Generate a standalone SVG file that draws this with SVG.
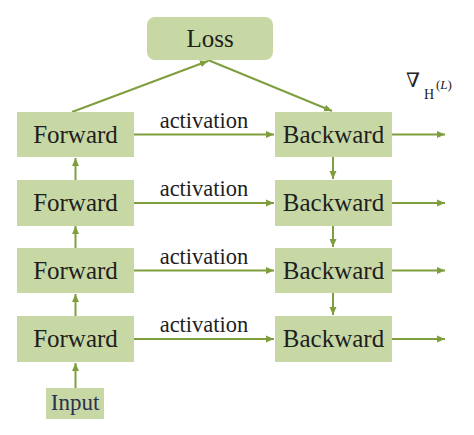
<svg xmlns="http://www.w3.org/2000/svg" width="474" height="435" viewBox="0 0 474 435">
  <style>
    .box { fill: #c8d8a5; }
    .lbl { font-size: 25px; fill: #1e1e1e; text-anchor: middle; }
    .act { font-size: 22.5px; fill: #1e1e1e; text-anchor: middle; }
    .conn { stroke: #7f9e3e; stroke-width: 2; fill: none; marker-end: url(#arr); }
    .math { fill: #222; }
  </style>
  <defs>
    <marker id="arr" markerUnits="userSpaceOnUse" markerWidth="9" markerHeight="8" refX="8" refY="4" orient="auto">
      <path d="M0,0.5 L8,4 L0,7.5 Z" fill="#7f9e3e"/>
    </marker>
  </defs>
  <rect width="474" height="435" fill="#ffffff"/>

  <g id="connectors">
    <line class="conn" x1="72" y1="112" x2="208" y2="61"/>
    <line class="conn" x1="208" y1="60" x2="332" y2="111"/>
    <line class="conn" x1="134" y1="134.5" x2="274" y2="134.5"/>
    <line class="conn" x1="134" y1="203" x2="274" y2="203"/>
    <line class="conn" x1="134" y1="270.5" x2="274" y2="270.5"/>
    <line class="conn" x1="134" y1="339" x2="274" y2="339"/>
    <line class="conn" x1="392" y1="134.5" x2="445" y2="134.5"/>
    <line class="conn" x1="392" y1="203" x2="445" y2="203"/>
    <line class="conn" x1="392" y1="270.5" x2="445" y2="270.5"/>
    <line class="conn" x1="392" y1="339" x2="445" y2="339"/>
    <line class="conn" x1="75.5" y1="180" x2="75.5" y2="158"/>
    <line class="conn" x1="75.5" y1="248" x2="75.5" y2="226"/>
    <line class="conn" x1="75.5" y1="316" x2="75.5" y2="294"/>
    <line class="conn" x1="75.5" y1="388" x2="75.5" y2="363"/>
    <line class="conn" x1="333" y1="157" x2="333" y2="179"/>
    <line class="conn" x1="333" y1="226" x2="333" y2="247"/>
    <line class="conn" x1="333" y1="293" x2="333" y2="315"/>
    <g font-family="Liberation Serif, DejaVu Serif, serif">
      <text class="act" x="204" y="127.5">activation</text>
      <text class="act" x="204" y="195.5">activation</text>
      <text class="act" x="204" y="263.5">activation</text>
      <text class="act" x="204" y="331.5">activation</text>
    </g>
  </g>

  <g font-family="Liberation Serif, DejaVu Serif, serif">
  <g id="loss">
    <rect class="box" x="147" y="17" width="126" height="43" rx="8"/>
    <text class="lbl" x="210" y="47">Loss</text>
  </g>

  <g id="forward1">
    <rect class="box" x="17" y="112" width="117" height="45"/>
    <text class="lbl" x="75.5" y="142.5">Forward</text>
  </g>
  <g id="forward2">
    <rect class="box" x="17" y="180" width="117" height="46"/>
    <text class="lbl" x="75.5" y="211">Forward</text>
  </g>
  <g id="forward3">
    <rect class="box" x="17" y="248" width="117" height="45"/>
    <text class="lbl" x="75.5" y="278.5">Forward</text>
  </g>
  <g id="forward4">
    <rect class="box" x="17" y="316" width="117" height="46"/>
    <text class="lbl" x="75.5" y="347">Forward</text>
  </g>

  <g id="backward1">
    <rect class="box" x="275" y="112" width="117" height="45"/>
    <text class="lbl" x="333.5" y="142.5">Backward</text>
  </g>
  <g id="backward2">
    <rect class="box" x="275" y="180" width="117" height="46"/>
    <text class="lbl" x="333.5" y="211">Backward</text>
  </g>
  <g id="backward3">
    <rect class="box" x="275" y="248" width="117" height="45"/>
    <text class="lbl" x="333.5" y="278.5">Backward</text>
  </g>
  <g id="backward4">
    <rect class="box" x="275" y="316" width="117" height="46"/>
    <text class="lbl" x="333.5" y="347">Backward</text>
  </g>

  <g id="input">
    <rect class="box" x="46" y="388" width="58" height="31"/>
    <text class="lbl" x="75" y="410" style="font-size:23px; fill:#2c3150">Input</text>
  </g>

  <g id="grad-label">
    <text class="math" x="406" y="87" style="font-size:20px">∇</text>
    <text class="math" x="424" y="98.5" style="font-size:14px">H</text>
    <text class="math" x="436" y="89" style="font-size:13px">(<tspan font-style="italic">L</tspan>)</text>
  </g>
  </g>
</svg>
